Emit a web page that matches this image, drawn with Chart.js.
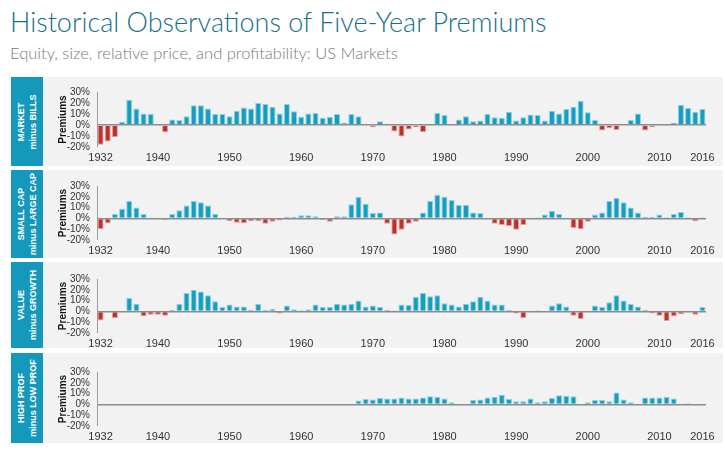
<!DOCTYPE html>
<html>
<head>
<meta charset="utf-8">
<script src="https://cdn.jsdelivr.net/npm/chart.js@4"></script>
<style>
  html, body { margin:0; padding:0; background:#ffffff; width:725px; height:450px; overflow:hidden; }
  #title { position:absolute; left:10px; top:5px; font-family:"Lato","Open Sans",sans-serif; font-weight:300; font-size:27px; color:#17708a; white-space:nowrap; }
  #subtitle { position:absolute; left:10px; top:43px; font-family:"Lato","Open Sans",sans-serif; font-weight:300; font-size:16.5px; color:#7a7a7a; white-space:nowrap; }
  .panel { position:absolute; left:43px; width:680px; background:#f2f2f2; }
  .tag { position:absolute; left:11px; width:32px; background:#1498bb; }
  .tag div { position:absolute; left:50%; top:50%; transform:translate(-50%,-50%) rotate(-90deg); color:#fff; font-family:"Liberation Sans",Arial,sans-serif; font-weight:bold; font-size:9px; line-height:12px; text-align:center; white-space:nowrap; }
  canvas { position:absolute; }
</style>
</head>
<body>
<div id="title">Historical Observations of Five-Year Premiums</div>
<div id="subtitle">Equity, size, relative price, and profitability: US Markets</div>
<script>
const years = [1932,1933,1934,1935,1936,1937,1938,1939,1940,1941,1942,1943,1944,1945,1946,1947,1948,1949,1950,1951,
1952,1953,1954,1955,1956,1957,1958,1959,1960,1961,1962,1963,1964,1965,1966,1967,1968,1969,1970,1971,
1972,1973,1974,1975,1976,1977,1978,1979,1980,1981,1982,1983,1984,1985,1986,1987,1988,1989,1990,1991,
1992,1993,1994,1995,1996,1997,1998,1999,2000,2001,2002,2003,2004,2005,2006,2007,2008,2009,2010,2011,
2012,2013,2014,2015,2016];
const tickYears = [1932,1940,1950,1960,1970,1980,1990,2000,2010,2016];
const yTicks = [-20,-10,0,10,20,30];

const marketMinusBills = [-18,-15,-11,3,23,15,10.5,10,1,-6.5,
5,4.5,8,18,18,15,10,10,8,13,
16,15,20,19,16.5,10.5,19,12.5,7.5,10.5,
11,6.5,7.5,10,2,10,8,1,-2,3.5,
1,-6,-10.5,-4,-2,-6.5,0,11,9,1,
5,8,3.5,4,10,7,6.5,12,4,7,
9.5,9,4,13,10.5,14.5,16.5,22,11.5,4.5,
-5,-3,-4.5,0,4.5,10.5,-5,-2,1,-1,
2,18.5,15.5,12,14.5];

const smallMinusLarge = [-10,-4.5,4,9,16,10,4,0,0,-1.5,
4,7.5,12,16,15,12,4,0,-2.5,-4,
-4.5,-2.5,-2.5,-5,-3,-2,1.5,1.5,3,3,
2,-1.5,-3,2,2,13,20,13.5,5,5.5,
-5,-15,-10.5,-5,-3,5.5,16,22,20,17,
12.5,12.5,5.5,5,0,-5,-6,-7,-10.5,-6,
0,1,3.5,7,4,0,-9,-10,-3,3.5,
5.5,16,19,15,10,5.5,1.5,1.5,3.5,1,
4,6,1,-2.5,1];

const valueMinusGrowth = [-8.5,0,-6,0,12.5,7,-4.5,-3,-3,-4,
1.5,7,17,20,18.5,15,9.5,4,6.5,4.5,
4.5,1.5,7,1.5,2.5,-2,5.5,2,1,2,
6.5,4,4,7,6.5,7,10,4.5,5.5,4,
1.5,1,6.5,6,13.5,17,14,15,7.5,6.5,
4.5,7,9.5,13.5,10,6.5,6.5,1.5,-2,-6,
0,1,0,5.5,7.5,4.5,-4,-7,0,5.5,
4,8.5,15,10,7,4.5,1.5,-2,-4,-9,
-4.5,-2.5,-1,-3,4];

const highMinusLowProf = [null,null,null,null,null,null,null,null,null,null,
null,null,null,null,null,null,null,null,null,null,
null,null,null,null,null,null,null,null,null,null,
null,null,null,null,null,null,3.5,5,4.5,6,
5.5,5.5,6.5,5.5,5.5,6.5,7.5,7,5.5,2,
0,0,4,4.5,6.5,7,9,5,3,3,
5.5,2,3,6,8.5,8,7.5,-1,2,4,
4,3,11,4.5,2,0,6.5,6.5,6.5,7,
5.5,0.5,1,-0.5,0.5];

const panelTitles = [["MARKET","minus BILLS"],["SMALL CAP","minus LARGE CAP"],["VALUE","minus GROWTH"],["HIGH PROF","minus LOW PROF"]];
const seriesList = [marketMinusBills, smallMinusLarge, valueMinusGrowth, highMinusLowProf];

// layout: panel rect [top, height], chart area top, chart area height
const panelRects = [[77,89],[170,88],[262,86],[353,90]];
const areaTops = [89,183,276,369];
const areaH = [58,57,57,57];

const POS = '#149ec1', POS_B = '#8fd0e2';
const NEG = '#c0302b', NEG_B = '#e0a09c';
const FONT = '"Liberation Sans", Arial, sans-serif';

seriesList.forEach((data, i) => {
  const [pt, ph] = panelRects[i];
  const panel = document.createElement('div');
  panel.className = 'panel';
  panel.style.top = pt + 'px'; panel.style.height = ph + 'px';
  document.body.appendChild(panel);
  const tag = document.createElement('div');
  tag.className = 'tag';
  tag.style.top = pt + 'px'; tag.style.height = ph + 'px';
  tag.innerHTML = '<div>' + panelTitles[i][0] + '<br>' + panelTitles[i][1] + '</div>';
  document.body.appendChild(tag);

  const padTop = 10, xH = 20;
  const cTop = areaTops[i] - padTop;
  const cH = padTop + areaH[i] + xH;
  const wrap = document.createElement('div');
  wrap.style.cssText = 'position:absolute;left:43px;top:' + cTop + 'px;width:680px;height:' + cH + 'px;';
  const cv = document.createElement('canvas');
  wrap.appendChild(cv);
  document.body.appendChild(wrap);

  new Chart(cv, {
    type: 'bar',
    data: {
      labels: years,
      datasets: [{
        data: data,
        backgroundColor: c => (c.raw !== null && c.raw < 0) ? NEG : POS,
        borderColor: c => (c.raw !== null && c.raw < 0) ? NEG_B : POS_B,
        borderWidth: 1,
        borderSkipped: 'start',
        categoryPercentage: 1,
        barPercentage: 0.84
      }]
    },
    options: {
      responsive: true,
      maintainAspectRatio: false,
      animation: false,
      layout: { padding: { top: padTop, bottom: 0, left: 12, right: 17 } },
      plugins: { legend: { display: false }, tooltip: { enabled: false } },
      scales: {
        x: {
          grid: { display: false, drawTicks: false },
          border: { display: false },
          afterFit: s => { s.height = xH; },
          ticks: {
            autoSkip: false, maxRotation: 0, minRotation: 0, padding: 4,
            color: '#333', font: { family: FONT, size: 11 },
            callback: function (v, idx) { const y = years[idx]; return tickYears.includes(y) ? String(y) : ''; }
          }
        },
        y: {
          min: yTicks[0], max: yTicks[yTicks.length - 1],
          afterFit: s => { s.width = 42; },
          afterBuildTicks: s => { s.ticks = yTicks.map(v => ({ value: v })); },
          grid: {
            drawTicks: false,
            color: c => (c.tick && c.tick.value === 0) ? '#8c8c8c' : 'rgba(0,0,0,0)',
            lineWidth: c => (c.tick && c.tick.value === 0) ? 1.5 : 0
          },
          border: { display: true, color: '#9a9a9a', width: 1 },
          ticks: { autoSkip: false, padding: 7, color: '#333', font: { family: FONT, size: 10 }, callback: v => v + '%' },
          title: { display: true, text: 'Premiums', color: '#111', font: { family: FONT, size: 10, weight: 'bold' }, padding: { top: 2, bottom: 0 } }
        }
      }
    }
  });
});
</script>
</body>
</html>
